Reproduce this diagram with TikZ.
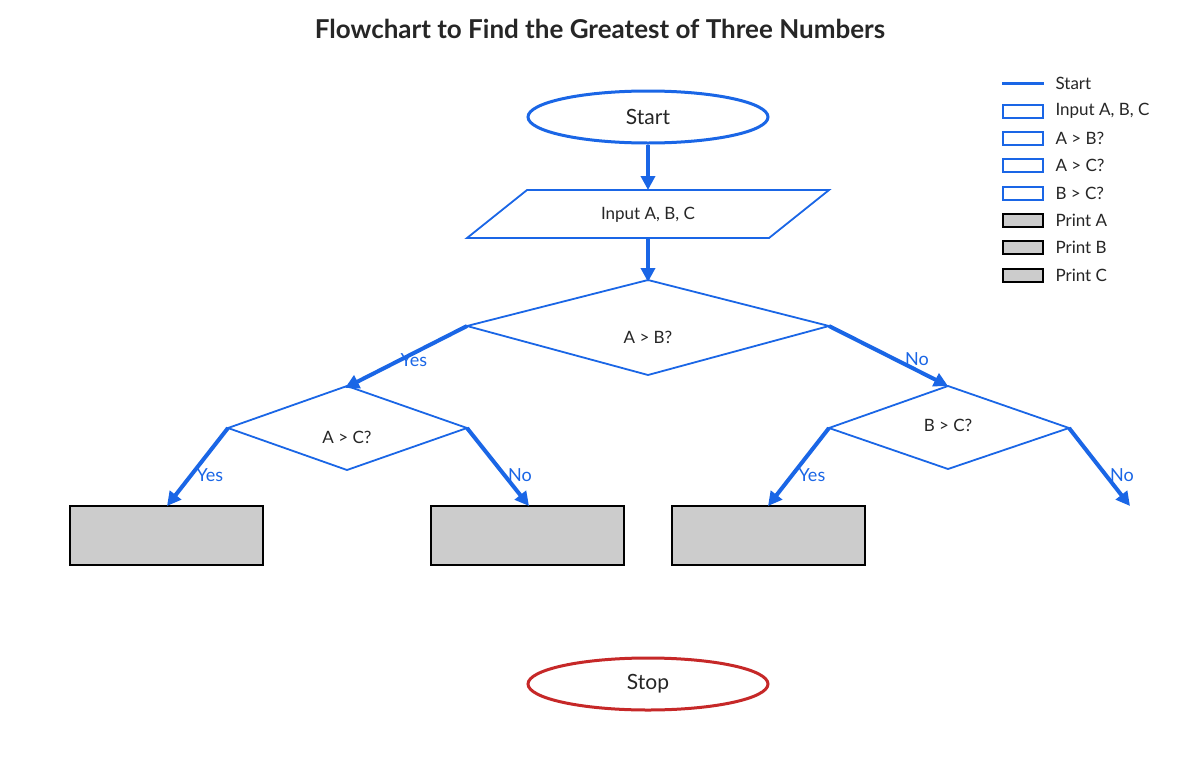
\documentclass[tikz,border=0pt]{standalone}
\usepackage{fontspec}
\setmainfont{Lato}
\usetikzlibrary{arrows.meta}
\definecolor{fb}{HTML}{1A66E6}
\definecolor{fr}{HTML}{C62828}
\definecolor{fg}{HTML}{CCCCCC}
\tikzset{
 shp/.style={draw=fb,line width=1.8pt},
 arr/.style={draw=fb,line width=4pt,-{Triangle[length=14pt,width=14pt]}},
 lab/.style={text=fb,font=\fontsize{18}{18}\selectfont},
 txt/.style={font=\fontsize{17}{17}\selectfont,text=black!85},
 pbox/.style={draw=black,line width=1.8pt,fill=fg},
 lbox/.style={draw=fb,line width=1.8pt},
 lgbox/.style={draw=black,line width=1.8pt,fill=fg},
 ltxt/.style={anchor=west,font=\fontsize{17}{17}\selectfont,text=black!85}
}
\begin{document}
\begin{tikzpicture}[x=1pt,y=-1pt]
\useasboundingbox[fill=white] (0,0) rectangle (1200,763);
\node[font=\bfseries\fontsize{26}{26}\selectfont,text=black!85] (title) at (600,29) {Flowchart to Find the Greatest of Three Numbers};
% start
\draw[draw=fb,line width=3pt] (648,117) ellipse (120 and 26);
\node[txt,font=\fontsize{21}{21}\selectfont] (start) at (648,117) {Start};
\coordinate (s1) at (648,145);
\coordinate (p0) at (648,190);
\draw[arr] (s1) -- (p0);
% input
\draw[shp] (527,190) -- (829,190) -- (769,238) -- (467,238) -- cycle;
\node[txt] (inp) at (648,215) {Input A, B, C};
\coordinate (p1) at (648,238);
\coordinate (d0) at (648,282);
\draw[arr] (p1) -- (d0);
% diamond 1
\draw[shp] (648,280) -- (829,326) -- (648,375) -- (467,326) -- cycle;
\node[txt] (ab) at (648,337) {A > B?};
\coordinate (d1l) at (467,326); \coordinate (d1r) at (829,326);
% diamond 2
\draw[shp] (347,386) -- (467,428) -- (347,470) -- (228,428) -- cycle;
\node[txt] (ac) at (347,437) {A > C?};
\coordinate (d2t) at (345,388); \coordinate (d2l) at (228,428); \coordinate (d2r) at (467,428);
% diamond 3
\draw[shp] (948,386) -- (1069,428) -- (948,469) -- (829,428) -- cycle;
\node[txt] (bc) at (948,425) {B > C?};
\coordinate (d3t) at (948,386); \coordinate (d3l) at (829,428); \coordinate (d3r) at (1069,428);
\draw[arr] (d1l) -- (d2t);
\node[lab] (y1) at (414,360) {Yes};
\draw[arr] (d1r) -- (d3t);
\node[lab] (n1) at (917,359) {No};
% boxes
\draw[pbox] (70,506) rectangle (263,565);
\draw[pbox] (431,506) rectangle (624,565);
\draw[pbox] (672,506) rectangle (865,565);
\coordinate (bA) at (167,506); \coordinate (bC) at (529,506);
\coordinate (bB) at (768,506); \coordinate (bX) at (1130,506);
\draw[arr] (d2l) -- (bA); \node[lab] (y2) at (210,475) {Yes};
\draw[arr] (d2r) -- (bC); \node[lab] (n2) at (520,475) {No};
\draw[arr] (d3l) -- (bB); \node[lab] (y3) at (812,475) {Yes};
\draw[arr] (d3r) -- (bX); \node[lab] (n3) at (1122,475) {No};
% stop
\draw[draw=fr,line width=3pt] (648,684) ellipse (120 and 26);
\node[txt,font=\fontsize{21}{21}\selectfont] (stop) at (648,684) {Stop};
% legend
\draw[draw=fb,line width=3pt] (1002,83) -- (1044,83);
\node[ltxt] (l1) at (1052,83) {Start};
\foreach \y/\t in {111/{Input A, B, C},138/{A > B?},165/{A > C?},193/{B > C?}}{
 \draw[lbox] (1003,\y-6) rectangle (1043,\y+7);
 \node[ltxt] at (1052,\y) {\t};}
\foreach \y/\t in {220/{Print A},247/{Print B},275/{Print C}}{
 \draw[lgbox] (1003,\y-6) rectangle (1043,\y+7);
 \node[ltxt] at (1052,\y) {\t};}
\end{tikzpicture}
\end{document}
